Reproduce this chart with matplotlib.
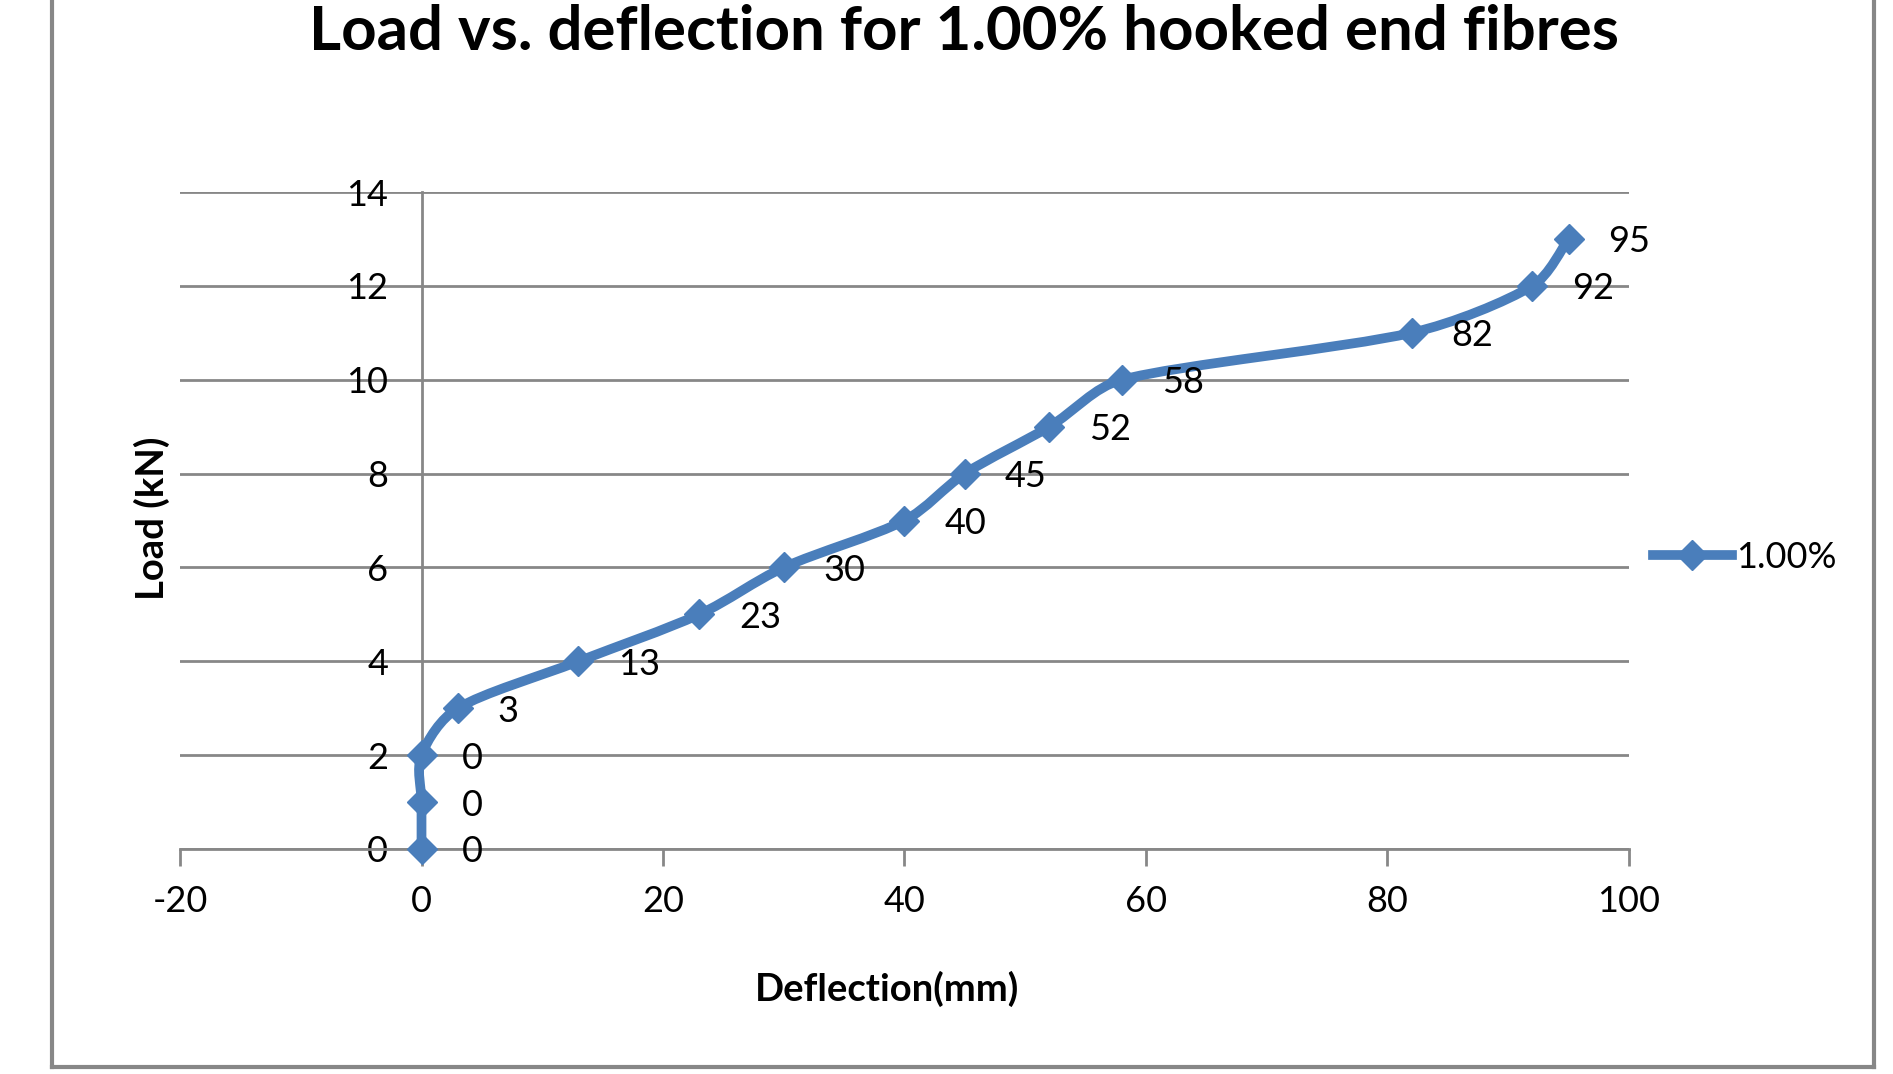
import numpy as np
import matplotlib
matplotlib.use("Agg")
import matplotlib.pyplot as plt
from matplotlib.path import Path
from matplotlib.patches import PathPatch
from matplotlib.lines import Line2D

plt.rcParams['font.family'] = ['Lato', 'DejaVu Sans']
plt.rcParams['axes.unicode_minus'] = False

# Daten: Durchbiegung (mm) und Last (kN)
durchbiegung = [0, 0, 0, 3, 13, 23, 30, 40, 45, 52, 58, 82, 92, 95]
last = [0, 1, 2, 3, 4, 5, 6, 7, 8, 9, 10, 11, 12, 13]
serie_name = "1.00%"
x_ticks = [-20, 0, 20, 40, 60, 80, 100]
y_ticks = [0, 2, 4, 6, 8, 10, 12, 14]

blau = '#4A7EBB'
grau = '#878787'
fs = 26

fig = plt.figure(figsize=(18.93, 10.74), dpi=100)
ax = fig.add_axes([0.0951, 0.2095, 0.7654, 0.6117])
ax.set_xlim(-20, 100)
ax.set_ylim(0, 14)

# geglaettete Linie wie in Excel (Bezier, Griffe in Pixeln begrenzt)
P = ax.transData.transform(np.column_stack([durchbiegung, last]).astype(float))
n = len(P)
verts = [P[0]]
codes = [Path.MOVETO]
for i in range(n - 1):
    p0 = P[i - 1] if i > 0 else P[i]
    p1 = P[i]
    p2 = P[i + 1]
    p3 = P[i + 2] if i + 2 < n else P[i + 1]
    seg = np.linalg.norm(p2 - p1)
    t1 = (p2 - p0) / 6
    t2 = (p3 - p1) / 6
    for t in (t1, t2):
        lt = np.linalg.norm(t)
        if lt > seg / 3:
            t *= (seg / 3) / lt
    verts += [p1 + t1, p2 - t2, p2]
    codes += [Path.CURVE4] * 3
verts = ax.transData.inverted().transform(np.array(verts))
pfad = PathPatch(Path(verts, codes), facecolor='none', edgecolor=blau, lw=7,
                 capstyle='round', joinstyle='round', zorder=3, clip_on=False)
ax.add_patch(pfad)
ax.plot(durchbiegung, last, linestyle='none', marker='D', markersize=15,
        color=blau, zorder=4, clip_on=False)

for xv, yv in zip(durchbiegung, last):
    ax.annotate(f"{xv}", (xv, yv), xytext=(40, -3), textcoords='offset pixels',
                ha='left', va='center', fontsize=fs)

ax.set_xticks(x_ticks)
ax.set_yticks(y_ticks)
ax.yaxis.grid(True, color=grau, lw=2)
ax.set_axisbelow(True)

for s in ['top', 'right']:
    ax.spines[s].set_visible(False)
ax.spines['left'].set_position(('data', 0))
ax.spines['left'].set_color(grau)
ax.spines['left'].set_linewidth(2)
ax.spines['bottom'].set_color(grau)
ax.spines['bottom'].set_linewidth(2)
ax.tick_params(axis='x', direction='out', length=12, width=2, color=grau,
               labelsize=fs, pad=14)
ax.tick_params(axis='y', length=0, labelsize=fs, pad=24)

ax.set_xlabel('Deflection(mm)', fontsize=27.5, fontweight='bold', labelpad=38, x=0.488)
fig.text(0.08, 0.517, 'Load (kN)', rotation=90, fontsize=27.5, fontweight='bold',
         ha='center', va='center')
fig.text(0.509, 0.970, 'Load vs. deflection for 1.00% hooked end fibres',
         fontsize=44.5, fontweight='bold', ha='center', va='center')

handle = Line2D([], [], color=blau, lw=7, marker='D', markersize=15)
fig.legend([handle], [serie_name], loc='center left',
           bbox_to_anchor=(0.8635, 0.481), frameon=False, fontsize=fs,
           handlelength=2.2, handletextpad=0.1, borderpad=0)

# Rahmen links, unten, rechts
for xs, ys in [([0.0275, 0.0275], [0.0065, 1.0]), ([0.0275, 0.990], [0.0065, 0.0065]),
               ([0.990, 0.990], [0.0065, 1.0])]:
    fig.add_artist(Line2D(xs, ys, transform=fig.transFigure, color=grau, lw=3))

fig.savefig('out.png', dpi=100)
